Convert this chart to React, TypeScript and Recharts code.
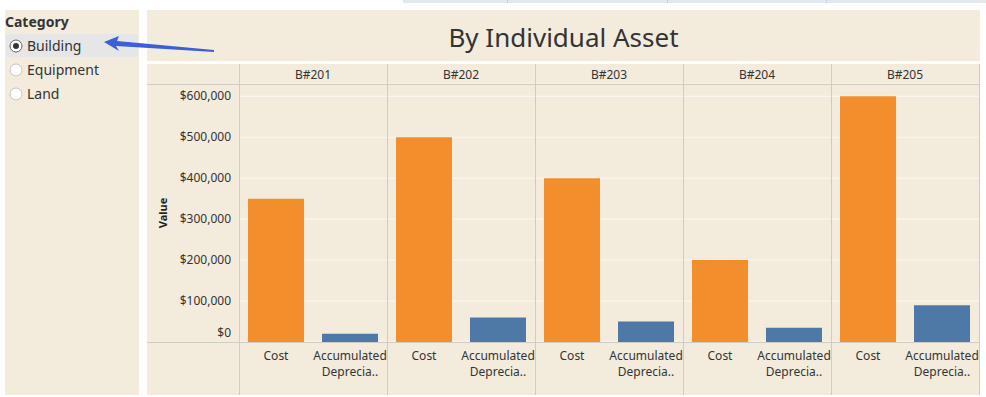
import React from "react";
import { BarChart, Bar, XAxis, YAxis, CartesianGrid, Cell } from "recharts";

const assets = ["B#201", "B#202", "B#203", "B#204", "B#205"];
const measures = ["Cost", "Accumulated Depreciation"];
const measureLines = [["Cost"], ["Accumulated", "Deprecia.."]];
const costValues = [350000, 500000, 400000, 200000, 600000];
const deprValues = [20000, 60000, 50000, 35000, 90000];
const yTicks = [0, 100000, 200000, 300000, 400000, 500000, 600000];
const categories = ["Building", "Equipment", "Land"];
const selectedCategory = "Building";

const BEIGE = "#f3ecdc";
const LINE = "#cfccc4";
const ORANGE = "#f28e2b";
const BLUE = "#4e79a7";
const FONT = "'Noto Sans', sans-serif";

const AXIS_W = 92;
const PANEL_W = 148;
const HEADER_H = 20;
const BOTTOM_H = 53;
const CHART_H = 331;

function fmtMoney(v: number) {
  return "$" + v.toLocaleString("en-US");
}

function MeasureTick(props: any) {
  const { x, y, index } = props;
  const lines = measureLines[index % measureLines.length];
  return (
    <text x={x} y={y} textAnchor="middle" fontSize={12} fill="#333" fontFamily={FONT}>
      {lines.map((l, i) => (
        <tspan key={i} x={x} dy={i === 0 ? 10 : 16}>
          {l}
        </tspan>
      ))}
    </text>
  );
}

// tableau nudges the $0 label up so it sits above the baseline
function ValueTick(props: any) {
  const { x, y, payload } = props;
  const shift = payload.value === 0 ? -9 : 0;
  return (
    <text x={x} y={y + shift} dy={4} textAnchor="end" fontSize={12} fill="#333" fontFamily={FONT}>
      {fmtMoney(payload.value)}
    </text>
  );
}

function ValueLabel(props: any) {
  const vb = props.viewBox || { x: 0, y: 0, width: 0, height: 0 };
  const cx = vb.x + 20;
  const cy = vb.y + vb.height / 2;
  return (
    <text
      x={cx}
      y={cy}
      transform={`rotate(-90 ${cx} ${cy})`}
      textAnchor="middle"
      fontSize={11}
      fontWeight="bold"
      fill="#222"
      fontFamily={FONT}
    >
      Value
    </text>
  );
}

function AssetPanel({ index, withAxis }: { index: number; withAxis: boolean }) {
  const data = measures.map((m, i) => ({
    measure: m,
    value: i === 0 ? costValues[index] : deprValues[index],
  }));
  return (
    <BarChart
      width={withAxis ? AXIS_W + PANEL_W : PANEL_W}
      height={CHART_H}
      data={data}
      margin={{ top: HEADER_H, right: 0, bottom: 0, left: 0 }}
      barSize={56}
    >
      <CartesianGrid vertical={false} stroke="#fbf8f1" />
      <XAxis
        dataKey="measure"
        height={BOTTOM_H}
        axisLine={false}
        tickLine={false}
        interval={0}
        tick={<MeasureTick />}
      />
      <YAxis
        hide={!withAxis}
        width={AXIS_W}
        domain={[0, 630000]}
        ticks={yTicks}
        axisLine={false}
        tickLine={false}
        tick={<ValueTick />}
        label={withAxis ? <ValueLabel /> : undefined}
      />
      <Bar dataKey="value" isAnimationActive={false}>
        {data.map((d, i) => (
          <Cell key={d.measure} fill={i === 0 ? ORANGE : BLUE} />
        ))}
      </Bar>
    </BarChart>
  );
}

function Radio({ checked }: { checked: boolean }) {
  return (
    <svg width={14} height={14} style={{ display: "block" }}>
      <circle cx={7} cy={7} r={6} fill="#fff" stroke={checked ? "#666" : "#c4c4c4"} strokeWidth={1} />
      {checked && <circle cx={7} cy={7} r={3} fill="#333" />}
    </svg>
  );
}

export default function App() {
  const stripLines = [507, 667, 826];
  return (
    <div
      style={{
        position: "absolute",
        left: 0,
        top: 0,
        width: 986,
        height: 397,
        background: "#fff",
        fontFamily: FONT,
        overflow: "hidden",
      }}
    >
      {/* strip from the worksheet above */}
      <div style={{ position: "absolute", left: 403, top: 0, width: 583, height: 3, background: "#e3e8ee" }} />
      {stripLines.map((x) => (
        <div key={x} style={{ position: "absolute", left: x, top: 0, width: 1, height: 3, background: "#c9cfd6" }} />
      ))}

      {/* category filter */}
      <div style={{ position: "absolute", left: 5, top: 10, width: 134, height: 385, background: BEIGE }}>
        <div style={{ position: "absolute", left: 0, top: 2, fontSize: 14, fontWeight: "bold", color: "#333" }}>
          Category
        </div>
        {categories.map((c, i) => (
          <div
            key={c}
            style={{
              position: "absolute",
              left: 1,
              top: 24 + i * 24,
              width: 132,
              height: 23,
              background: c === selectedCategory ? "#e6e6e6" : "transparent",
            }}
          >
            <div style={{ position: "absolute", left: 3, top: 5 }}>
              <Radio checked={c === selectedCategory} />
            </div>
            <div style={{ position: "absolute", left: 21, top: 2, fontSize: 14, color: "#333" }}>{c}</div>
          </div>
        ))}
      </div>

      {/* title */}
      <div
        style={{
          position: "absolute",
          left: 147,
          top: 10,
          width: 833,
          height: 51,
          background: BEIGE,
          textAlign: "center",
          lineHeight: "55px",
          fontSize: 26,
          color: "#333",
        }}
      >
        By Individual Asset
      </div>

      {/* chart area */}
      <div style={{ position: "absolute", left: 147, top: 64, width: 833, height: CHART_H, background: BEIGE }}>
        <div style={{ display: "flex" }}>
          {assets.map((a, i) => (
            <AssetPanel key={a} index={i} withAxis={i === 0} />
          ))}
        </div>
        {assets.map((a, i) => (
          <div
            key={a}
            style={{
              position: "absolute",
              left: AXIS_W + i * PANEL_W,
              top: 1,
              width: PANEL_W,
              height: HEADER_H,
              lineHeight: HEADER_H + "px",
              textAlign: "center",
              fontSize: 12,
              color: "#333",
            }}
          >
            {a}
          </div>
        ))}
        {/* frame lines */}
        <div style={{ position: "absolute", left: 0, top: HEADER_H, width: 833, height: 1, background: LINE }} />
        <div style={{ position: "absolute", left: 0, top: CHART_H - BOTTOM_H, width: 833, height: 1, background: LINE }} />
        {assets.map((a, i) => (
          <div
            key={a}
            style={{ position: "absolute", left: AXIS_W + i * PANEL_W, top: 0, width: 1, height: CHART_H, background: LINE }}
          />
        ))}
        <div style={{ position: "absolute", left: 832, top: 0, width: 1, height: CHART_H, background: LINE }} />
      </div>

      {/* annotation arrow */}
      <svg width={986} height={397} style={{ position: "absolute", left: 0, top: 0, pointerEvents: "none" }}>
        <polygon points="104,42 119,36 117,41 214,50 214,52 116,46 119,51" fill="#3a5fd6" />
      </svg>
    </div>
  );
}
